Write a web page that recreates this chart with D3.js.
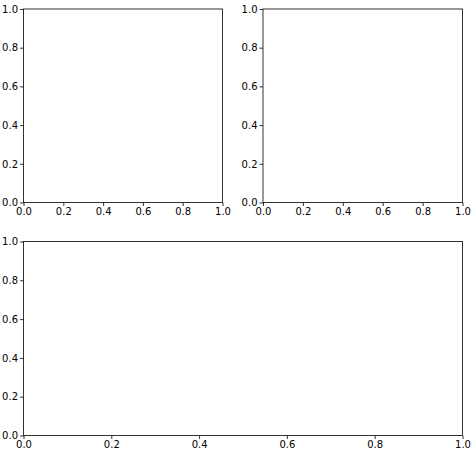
<!DOCTYPE html>
<html><head><meta charset="utf-8">
<script src="https://cdn.jsdelivr.net/npm/d3@7"></script>
<style>body{margin:0;background:#fff}</style>
</head><body><div id="chart"></div>
<script>
const xTicks = [0, 0.2, 0.4, 0.6, 0.8, 1.0];
const yTicks = [0, 0.2, 0.4, 0.6, 0.8, 1.0];
const panels = [
  {x0: 23.5, x1: 222.5, y0: 9, y1: 202.5},
  {x0: 263, x1: 462.5, y0: 9, y1: 202.5},
  {x0: 23.5, x1: 462.5, y0: 241.5, y1: 435.5}
];

const svg = d3.select("#chart").append("svg")
  .attr("width", 474).attr("height", 455)
  .style("font-family", "DejaVu Sans");

panels.forEach(p => {
  const x = d3.scaleLinear().domain([0, 1]).range([p.x0, p.x1]);
  const y = d3.scaleLinear().domain([0, 1]).range([p.y1, p.y0]);
  const fmt = d3.format(".1f");

  const gx = svg.append("g").attr("transform", `translate(0,${p.y1})`)
    .call(d3.axisBottom(x).tickValues(xTicks).tickFormat(fmt).tickSize(3.5).tickPadding(2));
  const gy = svg.append("g").attr("transform", `translate(${p.x0},0)`)
    .call(d3.axisLeft(y).tickValues(yTicks).tickFormat(fmt).tickSize(3.5).tickPadding(2));
  [gx, gy].forEach(g => {
    g.select(".domain").remove();
    g.selectAll("line").attr("stroke", "#000").attr("stroke-width", 0.8);
    g.selectAll("text").attr("font-size", 10).attr("fill", "#000")
      .style("font-family", "DejaVu Sans");
  });

  svg.append("rect")
    .attr("x", p.x0).attr("y", p.y0)
    .attr("width", p.x1 - p.x0).attr("height", p.y1 - p.y0)
    .attr("fill", "none").attr("stroke", "#000").attr("stroke-width", 0.8);
});
</script></body></html>
